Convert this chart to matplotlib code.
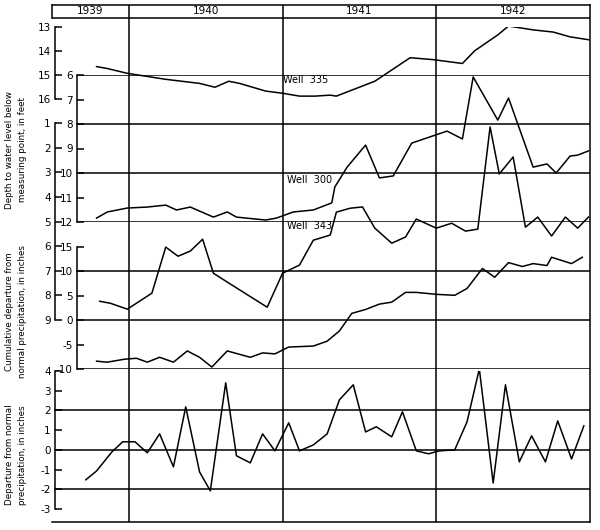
import matplotlib
matplotlib.use("Agg")
import matplotlib.pyplot as plt

# ===============================
# data (decimal year, value)
# ===============================

w335_t = [1939.79, 1939.86, 1939.99, 1940.24, 1940.46, 1940.56, 1940.65, 1940.72, 1940.89, 1941.00,
          1941.11, 1941.21, 1941.31, 1941.35, 1941.60, 1941.83, 1941.98, 1942.17, 1942.25, 1942.40,
          1942.47, 1942.63, 1942.76, 1942.87, 1942.99]
w335_d = [14.65, 14.73, 14.93, 15.18, 15.35, 15.51, 15.26, 15.35, 15.67, 15.76,
          15.88, 15.88, 15.84, 15.88, 15.26, 14.28, 14.36, 14.52, 13.99, 13.33,
          12.96, 13.12, 13.21, 13.41, 13.53]

w300_t = [1939.79, 1939.86, 1939.99, 1940.12, 1940.24, 1940.31, 1940.40, 1940.55, 1940.64, 1940.70,
          1940.89, 1940.96, 1941.07, 1941.20, 1941.32, 1941.34, 1941.42, 1941.54, 1941.63, 1941.72,
          1941.84, 1942.07, 1942.17, 1942.24, 1942.40, 1942.47, 1942.63, 1942.72, 1942.78, 1942.87,
          1942.92, 1942.99]
w300_d = [11.84, 11.59, 11.43, 11.39, 11.31, 11.51, 11.39, 11.80, 11.59, 11.80,
          11.92, 11.84, 11.59, 11.51, 11.22, 10.57, 9.76, 8.86, 10.20, 10.12,
          8.78, 8.29, 8.61, 6.08, 7.84, 6.94, 9.76, 9.63, 10.00, 9.31,
          9.27, 9.10]

w343_t = [1939.81, 1939.88, 1939.99, 1940.15, 1940.24, 1940.32, 1940.40, 1940.48, 1940.55, 1940.64,
          1940.90, 1941.00, 1941.11, 1941.20, 1941.31, 1941.35, 1941.44, 1941.52, 1941.60, 1941.71,
          1941.80, 1941.87, 1942.00, 1942.10, 1942.19, 1942.27, 1942.35, 1942.41, 1942.50, 1942.58,
          1942.66, 1942.75, 1942.84, 1942.92, 1942.99]
w343_d = [8.24, 8.32, 8.56, 7.91, 6.04, 6.41, 6.20, 5.72, 7.10, 7.46,
          8.48, 7.10, 6.77, 5.76, 5.55, 4.62, 4.46, 4.41, 5.27, 5.88,
          5.63, 4.90, 5.27, 5.07, 5.39, 5.31, 1.16, 3.07, 2.38, 5.23,
          4.82, 5.59, 4.82, 5.27, 4.82]

cum_t = [1939.79, 1939.86, 1939.97, 1940.05, 1940.12, 1940.20, 1940.29, 1940.38, 1940.46, 1940.54,
         1940.64, 1940.79, 1940.87, 1940.95, 1941.04, 1941.20, 1941.29, 1941.37, 1941.45, 1941.54,
         1941.63, 1941.71, 1941.80, 1941.87, 1942.00, 1942.12, 1942.20, 1942.30, 1942.38, 1942.47,
         1942.56, 1942.63, 1942.72, 1942.75, 1942.82, 1942.88, 1942.95]
cum_v = [-8.4, -8.6, -8.0, -7.8, -8.6, -7.6, -8.6, -6.3, -7.6, -9.6,
         -6.3, -7.6, -6.7, -6.9, -5.5, -5.3, -4.3, -2.2, 1.4, 2.2,
         3.3, 3.7, 5.7, 5.7, 5.3, 5.1, 6.5, 10.6, 8.8, 11.8,
         11.0, 11.6, 11.2, 12.9, 12.2, 11.6, 12.9]

dep_t = [1939.72, 1939.79, 1939.89, 1939.96, 1940.04, 1940.12, 1940.20, 1940.29, 1940.37, 1940.46,
         1940.53, 1940.63, 1940.70, 1940.79, 1940.87, 1940.95, 1941.04, 1941.11, 1941.20, 1941.29,
         1941.37, 1941.46, 1941.54, 1941.61, 1941.71, 1941.78, 1941.87, 1941.95, 1942.02, 1942.12,
         1942.20, 1942.28, 1942.37, 1942.45, 1942.54, 1942.62, 1942.71, 1942.79, 1942.88, 1942.96]
dep_v = [-1.52, -1.07, -0.10, 0.41, 0.41, -0.15, 0.81, -0.86, 2.18, -1.12,
         -2.08, 3.40, -0.30, -0.66, 0.81, -0.05, 1.37, -0.05, 0.25, 0.81,
         2.54, 3.30, 0.91, 1.17, 0.66, 1.93, -0.05, -0.20, -0.05, 0.00,
         1.42, 4.11, -1.68, 3.30, -0.61, 0.71, -0.61, 1.47, -0.46, 1.22]

years = [1939, 1940, 1941, 1942]
year_centers = [1939.75, 1940.5, 1941.5, 1942.5]

# ===============================
# layout
# ===============================

W, H = 600, 530
X0, X1 = 52, 590
T0, T1 = 1939.5, 1943.0
LW = 1.1
FS = 7.5


def add_series_axes(fig, ytop, ybot, lo, hi, invert, spine_px, ticks):
    ax = fig.add_axes([X0 / W, 1 - ybot / H, (X1 - X0) / W, (ybot - ytop) / H])
    ax.patch.set_visible(False)
    ax.set_xlim(T0, T1)
    if invert:
        ax.set_ylim(hi, lo)
    else:
        ax.set_ylim(lo, hi)
    for s in ["top", "right", "bottom"]:
        ax.spines[s].set_visible(False)
    ax.spines["left"].set_position(("outward", -(spine_px - X0) * 0.72))
    ax.spines["left"].set_linewidth(LW)
    ax.set_xticks([])
    ax.set_yticks(ticks)
    ax.set_yticklabels([str(t) for t in ticks])
    ax.tick_params(axis="y", direction="in", length=5, width=LW, labelsize=FS, pad=3)
    return ax


fig = plt.figure(figsize=(6, 5.3), dpi=100)

# main frame
main = fig.add_axes([X0 / W, 8 / H, (X1 - X0) / W, 517 / H])
main.set_xlim(T0, T1)
main.set_ylim(0, 1)
main.set_xticks([])
main.set_yticks([])
for s in main.spines.values():
    s.set_linewidth(LW)
main.spines["left"].set_bounds(1 - 13 / 517, 1)
main.axhline(1 - 13 / 517, color="black", lw=LW)
for y in years[1:]:
    main.axvline(y, color="black", lw=LW)
for y, c in zip(years, year_centers):
    main.text(c, 1 - 6.5 / 517, str(y), ha="center", va="center", fontsize=FS)

ax335 = add_series_axes(fig, 27, 99, 13, 16, True, 55, [13, 14, 15, 16])
ax300 = add_series_axes(fig, 75, 222, 6, 12, True, 77, [6, 7, 8, 9, 10, 11, 12])
ax343 = add_series_axes(fig, 123, 320, 1, 9, True, 55, [1, 2, 3, 4, 5, 6, 7, 8, 9])
axcum = add_series_axes(fig, 247, 369, -10, 15, False, 77, [15, 10, 5, 0, -5, -10])
axdep = add_series_axes(fig, 371, 509, -3, 4, False, 55, [4, 3, 2, 1, 0, -1, -2, -3])

inner = (77 - X0) / (X1 - X0)
outer = (55 - X0) / (X1 - X0)
for v in [6, 8, 10, 12]:
    ax300.axhline(v, xmin=inner, color="black", lw=LW)
for v in [10, 0, -10]:
    axcum.axhline(v, xmin=inner, color="black", lw=LW)
for v in [2, 0, -2]:
    axdep.axhline(v, xmin=outer, color="black", lw=LW)

ax335.plot(w335_t, w335_d, color="black", lw=LW)
ax300.plot(w300_t, w300_d, color="black", lw=LW)
ax343.plot(w343_t, w343_d, color="black", lw=LW)
axcum.plot(cum_t, cum_v, color="black", lw=LW)
axdep.plot(dep_t, dep_v, color="black", lw=LW)

ax335.text(1941.0, 15.2, "Well  335", fontsize=FS - 0.5, va="center", ha="left")
ax300.text(1941.03, 10.3, "Well  300", fontsize=FS - 0.5, va="center", ha="left")
ax343.text(1941.03, 5.2, "Well  343", fontsize=FS - 0.5, va="center", ha="left")

LFS = 6.3
fig.text(16 / W, 1 - 150 / H, "Depth to water level below\nmeasuring point, in feet",
         rotation=90, ha="center", va="center", fontsize=LFS, linespacing=1.7)
fig.text(16 / W, 1 - 312 / H, "Cumulative departure from\nnormal precipitation, in inches",
         rotation=90, ha="center", va="center", fontsize=LFS, linespacing=1.7)
fig.text(16 / W, 1 - 455 / H, "Departure from normal\nprecipitation, in inches",
         rotation=90, ha="center", va="center", fontsize=LFS, linespacing=1.7)

fig.savefig("out.png", dpi=100)
